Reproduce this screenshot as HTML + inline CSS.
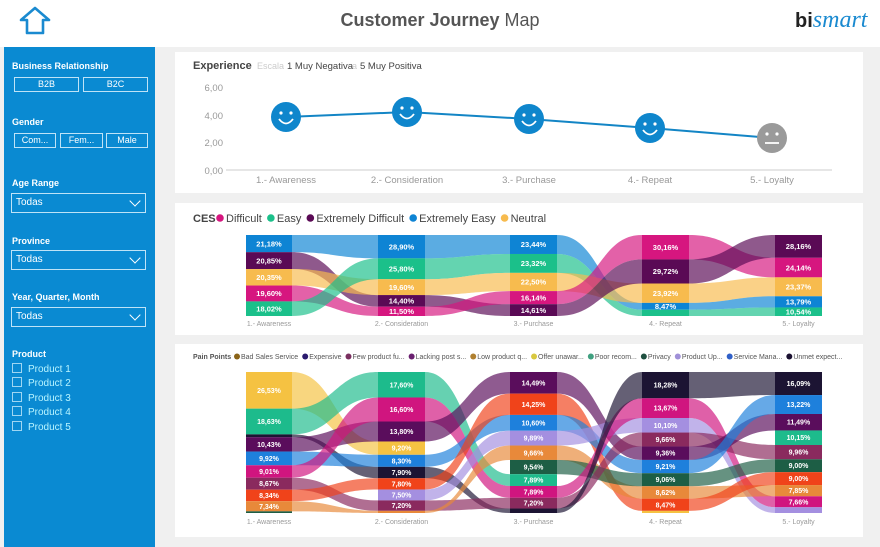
<!DOCTYPE html>
<html><head><meta charset="utf-8"><style>
*{margin:0;padding:0;box-sizing:border-box}
body{width:880px;height:547px;background:#f0f0f0;font-family:"Liberation Sans",sans-serif;position:relative;overflow:hidden}
.abs{position:absolute}
#hdr{left:0;top:0;width:880px;height:47px;background:#fff}
#side{left:4px;top:47px;width:151px;height:500px;background:#0a8ad2}
.st{position:absolute;color:#fff;font-weight:bold;font-size:9px;left:8px}
.btn{position:absolute;border:1px solid #bfe3f7;color:#fff;font-size:9px;text-align:center;line-height:13px;height:15px}
.dd{position:absolute;left:7px;width:135px;height:20px;border:1px solid #bfe3f7;color:#fff;font-size:10px;line-height:18px;padding-left:4px}
.dd:after{content:"";position:absolute;right:6px;top:3px;width:7px;height:7px;border-right:1.5px solid #fff;border-bottom:1.5px solid #fff;transform:rotate(45deg)}
.pr{position:absolute;left:8px;color:#b8f4ff;font-size:10px;line-height:12px}
.pr i{display:inline-block;width:10px;height:10px;border:1px solid #9fd6f2;vertical-align:-1px;margin-right:6px}
.panel{position:absolute;background:#fff;left:175px;width:688px}
</style></head><body>
<div id="hdr" class="abs">
<svg class="abs" style="left:18px;top:5px" width="34" height="30" viewBox="0 0 34 30"><path d="M17 3 L31 15 L25 15 L25 28 L9 28 L9 15 L3 15 Z" fill="none" stroke="#1a8ad0" stroke-width="2.6" stroke-linejoin="round"/></svg>
<div class="abs" style="left:0;width:880px;top:10px;text-align:center;font-size:18px;color:#555"><b>Customer Journey</b> Map</div>
<div class="abs" style="left:795px;top:7px;font-size:20px;color:#222;font-weight:bold">bi<span style="color:#1a8ad0;font-style:italic;font-family:'Liberation Serif',serif;font-weight:normal;font-size:24px">smart</span></div>
</div>
<div id="side" class="abs">
<div class="st" style="top:14px">Business Relationship</div>
<div class="btn" style="left:10px;top:30px;width:65px">B2B</div>
<div class="btn" style="left:79px;top:30px;width:65px">B2C</div>
<div class="st" style="top:70px">Gender</div>
<div class="btn" style="left:10px;top:86px;width:42px">Com...</div>
<div class="btn" style="left:56px;top:86px;width:43px">Fem...</div>
<div class="btn" style="left:102px;top:86px;width:42px">Male</div>
<div class="st" style="top:131px">Age Range</div>
<div class="dd" style="top:146px">Todas</div>
<div class="st" style="top:189px">Province</div>
<div class="dd" style="top:203px">Todas</div>
<div class="st" style="top:245px">Year, Quarter, Month</div>
<div class="dd" style="top:260px">Todas</div>
<div class="st" style="top:302px">Product</div>
<div class="pr" style="top:316px"><i></i>Product 1</div>
<div class="pr" style="top:330px"><i></i>Product 2</div>
<div class="pr" style="top:345px"><i></i>Product 3</div>
<div class="pr" style="top:359px"><i></i>Product 4</div>
<div class="pr" style="top:374px"><i></i>Product 5</div>
</div>
<div class="panel" style="top:52px;height:141px"></div>
<div class="panel" style="top:203px;height:132px"></div>
<div class="panel" style="top:344px;height:193px"></div>
<svg id="sv" class="abs" style="left:0;top:0" width="880" height="547" font-family="Liberation Sans, sans-serif">
<text x="193" y="69" font-size="11" font-weight="bold" fill="#444">Experience</text>
<text x="257" y="69" font-size="9" fill="#ccc">Escala</text>
<text x="287" y="69" font-size="9.5" fill="#444">1 Muy Negativa</text>
<text x="352" y="69" font-size="9" fill="#ccc">a</text>
<text x="360" y="69" font-size="9.5" fill="#444">5 Muy Positiva</text>
<g font-size="9.5" fill="#999" text-anchor="end"><text x="223" y="91">6,00</text><text x="223" y="119">4,00</text><text x="223" y="146">2,00</text><text x="223" y="174">0,00</text></g>
<line x1="226" y1="170" x2="832" y2="170" stroke="#ccc" stroke-width="1"/>
<polyline points="286,117 407,112 529,119 650,128 772,138" fill="none" stroke="#1385c5" stroke-width="2"/>
<g font-size="9.5" fill="#999" text-anchor="middle"><text x="286" y="183">1.- Awareness</text><text x="407" y="183">2.- Consideration</text><text x="529" y="183">3.- Purchase</text><text x="650" y="183">4.- Repeat</text><text x="772" y="183">5.- Loyalty</text></g>
<g id="faces"></g>
<text x="193" y="222" font-size="11" font-weight="bold" fill="#444">CES</text>
<g id="ces"></g>
<text x="193" y="359" font-size="7" font-weight="bold" fill="#555">Pain Points</text>
<g id="pain"></g>
</svg>
<script>
var NS="http://www.w3.org/2000/svg";
function el(p,t,a,txt){var e=document.createElementNS(NS,t);for(var k in a)e.setAttribute(k,a[k]);if(txt)e.textContent=txt;p.appendChild(e);return e;}
var F=document.getElementById('faces');
[[286,117,1],[407,112,1],[529,119,1],[650,128,1],[772,138,0]].forEach(function(p){
 var c=p[2]?'#0f86cc':'#9a9a9a';el(F,'circle',{cx:p[0],cy:p[1],r:15,fill:c});
 el(F,'circle',{cx:p[0]-5,cy:p[1]-4,r:1.6,fill:'#fff'});el(F,'circle',{cx:p[0]+5,cy:p[1]-4,r:1.6,fill:'#fff'});
 if(p[2])el(F,'path',{d:'M'+(p[0]-7)+' '+(p[1]+2)+' Q'+p[0]+' '+(p[1]+11)+' '+(p[0]+7)+' '+(p[1]+2),fill:'none',stroke:'#fff','stroke-width':1.8});
 else el(F,'line',{x1:p[0]-7,y1:p[1]+5,x2:p[0]+7,y2:p[1]+5,stroke:'#fff','stroke-width':1.8});
});
var X=[[246,292],[378,425],[510,557],[642,689],[775,822]];
function sankey(g,cols,col,top,bot,fs){
 var pos=[];
 cols.forEach(function(c,i){var s=0;c.forEach(function(d){s+=d[1]});var y=top,m={};
  c.forEach(function(d){var h=d[1]/s*(bot-top);m[d[0]]=[y,h,d[1],d[2]];y+=h});pos.push(m);});
 for(var i=0;i<4;i++){var a=pos[i],b=pos[i+1];for(var k in a){if(!b[k])continue;
  var x0=X[i][1],x1=X[i+1][0],mx=(x0+x1)/2,ya=a[k][0],ha=a[k][1],yb=b[k][0],hb=b[k][1];
  el(g,'path',{d:'M'+x0+' '+ya+' C'+mx+' '+ya+' '+mx+' '+yb+' '+x1+' '+yb+' L'+x1+' '+(yb+hb)+' C'+mx+' '+(yb+hb)+' '+mx+' '+(ya+ha)+' '+x0+' '+(ya+ha)+'Z',fill:col[k],opacity:0.68});}}
 pos.forEach(function(m,i){for(var k in m){var v=m[k];el(g,'rect',{x:X[i][0],y:v[0],width:X[i][1]-X[i][0],height:v[1],fill:col[k]});
  if(!v[3])el(g,'text',{x:(X[i][0]+X[i][1])/2,y:v[0]+v[1]/2+fs*0.36,'font-size':fs,fill:'#fff','text-anchor':'middle','font-weight':'bold'},v[2].toFixed(2).replace('.',',')+'%');}});
}
var CC={D:'#d6167f',E:'#1bc08a',X:'#5a0a55',B:'#0e84d4',N:'#f7bb4e'};
var g=document.getElementById('ces');
var lx=216;[['D','Difficult'],['E','Easy'],['X','Extremely Difficult'],['B','Extremely Easy'],['N','Neutral']].forEach(function(l){
 el(g,'circle',{cx:lx+4,cy:218,r:3.8,fill:CC[l[0]]});var t=el(g,'text',{x:lx+10,y:222,'font-size':11,fill:'#444'},l[1]);lx+=10+t.getComputedTextLength()+5;});
sankey(g,[
 [['B',21.18],['X',20.85],['N',20.35],['D',19.60],['E',18.02]],
 [['B',28.90],['E',25.80],['N',19.60],['X',14.40],['D',11.50]],
 [['B',23.44],['E',23.32],['N',22.50],['D',16.14],['X',14.61]],
 [['D',30.16],['X',29.72],['N',23.92],['B',8.47],['E',7.73,1]],
 [['X',28.16],['D',24.14],['N',23.37],['B',13.79],['E',10.54]]],CC,235,316,7.5);
['1.- Awareness','2.- Consideration','3.- Purchase','4.- Repeat','5.- Loyalty'].forEach(function(s,i){
 el(g,'text',{x:(X[i][0]+X[i][1])/2,y:326,'font-size':7,fill:'#999','text-anchor':'middle'},s);});
var PC={Y:'#f5c242',G:'#1dbb8c',P:'#5a0d5c',B:'#1e80dc',M:'#d0157f',L:'#8a2a5e',R:'#f0431a',O:'#e8893a',K:'#1c1433',V:'#a48fe0',D:'#1d5e45'};
var p=document.getElementById('pain');
var lg=[['#8b6418','Bad Sales Service'],['#2a1a6e','Expensive'],['#7a3060','Few product fu...'],['#6a2070','Lacking post s...'],['#b08030','Low product q...'],['#d8c840','Offer unawar...'],['#40a080','Poor recom...'],['#205040','Privacy'],['#a090d8','Product Up...'],['#3060c8','Service Mana...'],['#1a1030','Unmet expect...']];
lx=234;lg.forEach(function(l){el(p,'circle',{cx:lx+3,cy:356.5,r:3,fill:l[0]});var t=el(p,'text',{x:lx+7,y:359,'font-size':7,fill:'#555'},l[1]);lx+=7+t.getComputedTextLength()+4;});
sankey(p,[
 [['Y',26.53],['G',18.63],['K',2,1],['P',10.43],['B',9.92],['M',9.01],['L',8.67],['R',8.34],['O',7.34],['D',1.2,1]],
 [['G',17.60],['M',16.60],['P',13.80],['Y',9.20],['B',8.30],['K',7.90],['R',7.80],['V',7.50],['L',7.20],['O',1.5,1]],
 [['P',14.49],['R',14.25],['B',10.60],['V',9.89],['O',9.66],['D',9.54],['G',7.89],['M',7.89],['L',7.20],['K',3,1]],
 [['K',18.28],['M',13.67],['V',10.10],['L',9.66],['P',9.36],['B',9.21],['D',9.06],['O',8.62],['R',8.47],['Y',1.5,1]],
 [['K',16.09],['B',13.22],['P',11.49],['G',10.15],['L',9.96],['D',9.00],['R',9.00],['O',7.85],['M',7.66],['V',4,1]]],PC,372,513,7);
['1.- Awareness','2.- Consideration','3.- Purchase','4.- Repeat','5.- Loyalty'].forEach(function(s,i){
 el(p,'text',{x:(X[i][0]+X[i][1])/2,y:524,'font-size':7,fill:'#999','text-anchor':'middle'},s);});
</script>
</body></html>
